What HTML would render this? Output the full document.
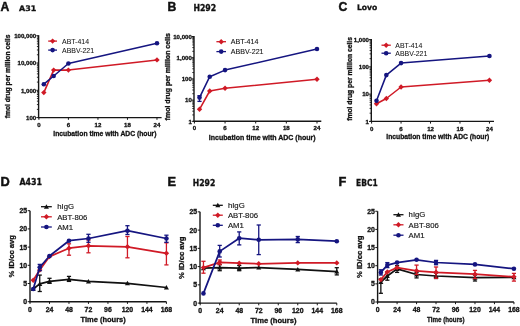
<!DOCTYPE html>
<html><head><meta charset="utf-8"><title>Figure</title>
<style>html,body{margin:0;padding:0;background:#fff;}svg{display:block;}</style></head>
<body>
<svg width="520" height="326" viewBox="0 0 520 326">
<rect width="520" height="326" fill="#fff"/>
<text x="0.40" y="11.20" font-size="12.2" text-anchor="start" font-weight="bold" font-family='"Liberation Sans", Arial, sans-serif' fill="#111" stroke="#111" stroke-width="0.3" style="stroke-width:0.45">A</text>
<text x="167.40" y="11.40" font-size="12.2" text-anchor="start" font-weight="bold" font-family='"Liberation Sans", Arial, sans-serif' fill="#111" stroke="#111" stroke-width="0.3" style="stroke-width:0.45">B</text>
<text x="338.40" y="11.40" font-size="12.2" text-anchor="start" font-weight="bold" font-family='"Liberation Sans", Arial, sans-serif' fill="#111" stroke="#111" stroke-width="0.3" style="stroke-width:0.45">C</text>
<text x="0.50" y="186.00" font-size="12.8" text-anchor="start" font-weight="bold" font-family='"Liberation Sans", Arial, sans-serif' fill="#111" stroke="#111" stroke-width="0.3" style="stroke-width:0.45">D</text>
<text x="167.60" y="185.80" font-size="12.8" text-anchor="start" font-weight="bold" font-family='"Liberation Sans", Arial, sans-serif' fill="#111" stroke="#111" stroke-width="0.3" style="stroke-width:0.45">E</text>
<text x="338.40" y="185.80" font-size="12.8" text-anchor="start" font-weight="bold" font-family='"Liberation Sans", Arial, sans-serif' fill="#111" stroke="#111" stroke-width="0.3" style="stroke-width:0.45">F</text>
<text x="19.00" y="10.60" font-size="7.6" text-anchor="start" font-weight="bold" font-family='"DejaVu Sans", Verdana, sans-serif' fill="#111" textLength="17.2" lengthAdjust="spacingAndGlyphs" stroke="#111" stroke-width="0.3" >A31</text>
<text x="193.40" y="10.90" font-size="8.1" text-anchor="start" font-weight="bold" font-family='"DejaVu Sans", Verdana, sans-serif' fill="#111" textLength="22.8" lengthAdjust="spacingAndGlyphs" stroke="#111" stroke-width="0.3" >H292</text>
<text x="357.00" y="10.40" font-size="7.6" text-anchor="start" font-weight="bold" font-family='"DejaVu Sans", Verdana, sans-serif' fill="#111" textLength="20.3" lengthAdjust="spacingAndGlyphs" stroke="#111" stroke-width="0.3" >Lovo</text>
<text x="19.40" y="185.40" font-size="8.2" text-anchor="start" font-weight="bold" font-family='"DejaVu Sans", Verdana, sans-serif' fill="#111" textLength="22.6" lengthAdjust="spacingAndGlyphs" stroke="#111" stroke-width="0.3" >A431</text>
<text x="192.80" y="185.60" font-size="8.3" text-anchor="start" font-weight="bold" font-family='"DejaVu Sans", Verdana, sans-serif' fill="#111" textLength="22.5" lengthAdjust="spacingAndGlyphs" stroke="#111" stroke-width="0.3" >H292</text>
<text x="356.10" y="185.80" font-size="8.3" text-anchor="start" font-weight="bold" font-family='"DejaVu Sans", Verdana, sans-serif' fill="#111" textLength="21.6" lengthAdjust="spacingAndGlyphs" stroke="#111" stroke-width="0.3" >EBC1</text>
<line x1="38.60" y1="35.20" x2="38.60" y2="118.20" stroke="#161616" stroke-width="1.4"/>
<line x1="36.30" y1="117.60" x2="38.60" y2="117.60" stroke="#161616" stroke-width="1.0"/>
<text x="36.20" y="119.80" font-size="6.1" text-anchor="end" font-weight="bold" font-family='"Liberation Sans", Arial, sans-serif' fill="#111" stroke="#111" stroke-width="0.3" >100</text>
<line x1="36.90" y1="109.38" x2="38.60" y2="109.38" stroke="#161616" stroke-width="0.9"/>
<line x1="36.90" y1="104.57" x2="38.60" y2="104.57" stroke="#161616" stroke-width="0.9"/>
<line x1="36.90" y1="101.16" x2="38.60" y2="101.16" stroke="#161616" stroke-width="0.9"/>
<line x1="36.90" y1="98.52" x2="38.60" y2="98.52" stroke="#161616" stroke-width="0.9"/>
<line x1="36.90" y1="96.36" x2="38.60" y2="96.36" stroke="#161616" stroke-width="0.9"/>
<line x1="36.90" y1="94.53" x2="38.60" y2="94.53" stroke="#161616" stroke-width="0.9"/>
<line x1="36.90" y1="92.95" x2="38.60" y2="92.95" stroke="#161616" stroke-width="0.9"/>
<line x1="36.90" y1="91.55" x2="38.60" y2="91.55" stroke="#161616" stroke-width="0.9"/>
<line x1="36.30" y1="90.30" x2="38.60" y2="90.30" stroke="#161616" stroke-width="1.0"/>
<text x="36.20" y="92.50" font-size="6.1" text-anchor="end" font-weight="bold" font-family='"Liberation Sans", Arial, sans-serif' fill="#111" stroke="#111" stroke-width="0.3" >1,000</text>
<line x1="36.90" y1="82.08" x2="38.60" y2="82.08" stroke="#161616" stroke-width="0.9"/>
<line x1="36.90" y1="77.27" x2="38.60" y2="77.27" stroke="#161616" stroke-width="0.9"/>
<line x1="36.90" y1="73.86" x2="38.60" y2="73.86" stroke="#161616" stroke-width="0.9"/>
<line x1="36.90" y1="71.22" x2="38.60" y2="71.22" stroke="#161616" stroke-width="0.9"/>
<line x1="36.90" y1="69.06" x2="38.60" y2="69.06" stroke="#161616" stroke-width="0.9"/>
<line x1="36.90" y1="67.23" x2="38.60" y2="67.23" stroke="#161616" stroke-width="0.9"/>
<line x1="36.90" y1="65.65" x2="38.60" y2="65.65" stroke="#161616" stroke-width="0.9"/>
<line x1="36.90" y1="64.25" x2="38.60" y2="64.25" stroke="#161616" stroke-width="0.9"/>
<line x1="36.30" y1="63.00" x2="38.60" y2="63.00" stroke="#161616" stroke-width="1.0"/>
<text x="36.20" y="65.20" font-size="6.1" text-anchor="end" font-weight="bold" font-family='"Liberation Sans", Arial, sans-serif' fill="#111" stroke="#111" stroke-width="0.3" >10,000</text>
<line x1="36.90" y1="54.78" x2="38.60" y2="54.78" stroke="#161616" stroke-width="0.9"/>
<line x1="36.90" y1="49.97" x2="38.60" y2="49.97" stroke="#161616" stroke-width="0.9"/>
<line x1="36.90" y1="46.56" x2="38.60" y2="46.56" stroke="#161616" stroke-width="0.9"/>
<line x1="36.90" y1="43.92" x2="38.60" y2="43.92" stroke="#161616" stroke-width="0.9"/>
<line x1="36.90" y1="41.76" x2="38.60" y2="41.76" stroke="#161616" stroke-width="0.9"/>
<line x1="36.90" y1="39.93" x2="38.60" y2="39.93" stroke="#161616" stroke-width="0.9"/>
<line x1="36.90" y1="38.35" x2="38.60" y2="38.35" stroke="#161616" stroke-width="0.9"/>
<line x1="36.90" y1="36.95" x2="38.60" y2="36.95" stroke="#161616" stroke-width="0.9"/>
<line x1="36.30" y1="35.70" x2="38.60" y2="35.70" stroke="#161616" stroke-width="1.0"/>
<text x="36.20" y="37.90" font-size="6.1" text-anchor="end" font-weight="bold" font-family='"Liberation Sans", Arial, sans-serif' fill="#111" stroke="#111" stroke-width="0.3" >100,000</text>
<line x1="38.00" y1="117.60" x2="161.60" y2="117.60" stroke="#161616" stroke-width="1.4"/>
<line x1="38.90" y1="117.60" x2="38.90" y2="119.80" stroke="#161616" stroke-width="1.0"/>
<text x="38.90" y="126.70" font-size="6.1" text-anchor="middle" font-weight="bold" font-family='"Liberation Sans", Arial, sans-serif' fill="#111" stroke="#111" stroke-width="0.3" >0</text>
<line x1="68.42" y1="117.60" x2="68.42" y2="119.80" stroke="#161616" stroke-width="1.0"/>
<text x="68.42" y="126.70" font-size="6.1" text-anchor="middle" font-weight="bold" font-family='"Liberation Sans", Arial, sans-serif' fill="#111" stroke="#111" stroke-width="0.3" >6</text>
<line x1="97.94" y1="117.60" x2="97.94" y2="119.80" stroke="#161616" stroke-width="1.0"/>
<text x="97.94" y="126.70" font-size="6.1" text-anchor="middle" font-weight="bold" font-family='"Liberation Sans", Arial, sans-serif' fill="#111" stroke="#111" stroke-width="0.3" >12</text>
<line x1="127.46" y1="117.60" x2="127.46" y2="119.80" stroke="#161616" stroke-width="1.0"/>
<text x="127.46" y="126.70" font-size="6.1" text-anchor="middle" font-weight="bold" font-family='"Liberation Sans", Arial, sans-serif' fill="#111" stroke="#111" stroke-width="0.3" >18</text>
<line x1="156.98" y1="117.60" x2="156.98" y2="119.80" stroke="#161616" stroke-width="1.0"/>
<text x="156.98" y="126.70" font-size="6.1" text-anchor="middle" font-weight="bold" font-family='"Liberation Sans", Arial, sans-serif' fill="#111" stroke="#111" stroke-width="0.3" >24</text>
<text x="53.30" y="136.09" font-size="7.2" text-anchor="start" font-weight="bold" font-family='"Liberation Sans", Arial, sans-serif' fill="#111" textLength="103.2" lengthAdjust="spacingAndGlyphs" stroke="#111" stroke-width="0.3" >Incubation time with ADC (hour)</text>
<text x="8.00" y="76.45" font-size="6.8" font-weight="bold" font-family='"Liberation Sans", Arial, sans-serif' fill="#111" stroke="#111" stroke-width="0.3" text-anchor="middle" transform="rotate(-90 8.00 76.45)" dy="2.4" textLength="83.7" lengthAdjust="spacingAndGlyphs">fmol drug per million cells</text>
<polyline points="43.82,92.60 53.66,70.10 68.42,70.10 156.98,59.90" fill="none" stroke="#d01a26" stroke-width="1.55" stroke-linejoin="round"/>
<polygon points="43.82,89.90 46.52,92.60 43.82,95.30 41.12,92.60" fill="#d01a26"/>
<polygon points="53.66,67.40 56.36,70.10 53.66,72.80 50.96,70.10" fill="#d01a26"/>
<polygon points="68.42,67.40 71.12,70.10 68.42,72.80 65.72,70.10" fill="#d01a26"/>
<polygon points="156.98,57.20 159.68,59.90 156.98,62.60 154.28,59.90" fill="#d01a26"/>
<polyline points="43.82,84.20 53.66,76.00 68.42,63.50 156.98,43.30" fill="none" stroke="#151580" stroke-width="1.55" stroke-linejoin="round"/>
<circle cx="43.82" cy="84.20" r="2.3" fill="#151580"/>
<circle cx="53.66" cy="76.00" r="2.3" fill="#151580"/>
<circle cx="68.42" cy="63.50" r="2.3" fill="#151580"/>
<circle cx="156.98" cy="43.30" r="2.3" fill="#151580"/>
<line x1="48.20" y1="41.10" x2="57.00" y2="41.10" stroke="#d01a26" stroke-width="1.3"/>
<polygon points="52.60,38.40 55.30,41.10 52.60,43.80 49.90,41.10" fill="#d01a26"/>
<text x="62.00" y="43.60" font-size="6.95" text-anchor="start" font-weight="normal" font-family='"Liberation Sans", Arial, sans-serif' fill="#151515" stroke="#151515" stroke-width="0.05">ABT-414</text>
<line x1="48.20" y1="50.10" x2="57.00" y2="50.10" stroke="#151580" stroke-width="1.3"/>
<circle cx="52.60" cy="50.10" r="2.3" fill="#151580"/>
<text x="62.00" y="52.60" font-size="6.95" text-anchor="start" font-weight="normal" font-family='"Liberation Sans", Arial, sans-serif' fill="#151515" stroke="#151515" stroke-width="0.05">ABBV-221</text>
<line x1="194.00" y1="36.00" x2="194.00" y2="121.90" stroke="#161616" stroke-width="1.4"/>
<line x1="191.70" y1="121.30" x2="194.00" y2="121.30" stroke="#161616" stroke-width="1.0"/>
<text x="191.80" y="123.50" font-size="6.1" text-anchor="end" font-weight="bold" font-family='"Liberation Sans", Arial, sans-serif' fill="#111" stroke="#111" stroke-width="0.3" >1</text>
<line x1="192.30" y1="114.92" x2="194.00" y2="114.92" stroke="#161616" stroke-width="0.9"/>
<line x1="192.30" y1="111.19" x2="194.00" y2="111.19" stroke="#161616" stroke-width="0.9"/>
<line x1="192.30" y1="108.54" x2="194.00" y2="108.54" stroke="#161616" stroke-width="0.9"/>
<line x1="192.30" y1="106.48" x2="194.00" y2="106.48" stroke="#161616" stroke-width="0.9"/>
<line x1="192.30" y1="104.80" x2="194.00" y2="104.80" stroke="#161616" stroke-width="0.9"/>
<line x1="192.30" y1="103.38" x2="194.00" y2="103.38" stroke="#161616" stroke-width="0.9"/>
<line x1="192.30" y1="102.15" x2="194.00" y2="102.15" stroke="#161616" stroke-width="0.9"/>
<line x1="192.30" y1="101.07" x2="194.00" y2="101.07" stroke="#161616" stroke-width="0.9"/>
<line x1="191.70" y1="100.10" x2="194.00" y2="100.10" stroke="#161616" stroke-width="1.0"/>
<text x="191.80" y="102.30" font-size="6.1" text-anchor="end" font-weight="bold" font-family='"Liberation Sans", Arial, sans-serif' fill="#111" stroke="#111" stroke-width="0.3" >10</text>
<line x1="192.30" y1="93.72" x2="194.00" y2="93.72" stroke="#161616" stroke-width="0.9"/>
<line x1="192.30" y1="89.99" x2="194.00" y2="89.99" stroke="#161616" stroke-width="0.9"/>
<line x1="192.30" y1="87.34" x2="194.00" y2="87.34" stroke="#161616" stroke-width="0.9"/>
<line x1="192.30" y1="85.28" x2="194.00" y2="85.28" stroke="#161616" stroke-width="0.9"/>
<line x1="192.30" y1="83.60" x2="194.00" y2="83.60" stroke="#161616" stroke-width="0.9"/>
<line x1="192.30" y1="82.18" x2="194.00" y2="82.18" stroke="#161616" stroke-width="0.9"/>
<line x1="192.30" y1="80.95" x2="194.00" y2="80.95" stroke="#161616" stroke-width="0.9"/>
<line x1="192.30" y1="79.87" x2="194.00" y2="79.87" stroke="#161616" stroke-width="0.9"/>
<line x1="191.70" y1="78.90" x2="194.00" y2="78.90" stroke="#161616" stroke-width="1.0"/>
<text x="191.80" y="81.10" font-size="6.1" text-anchor="end" font-weight="bold" font-family='"Liberation Sans", Arial, sans-serif' fill="#111" stroke="#111" stroke-width="0.3" >100</text>
<line x1="192.30" y1="72.52" x2="194.00" y2="72.52" stroke="#161616" stroke-width="0.9"/>
<line x1="192.30" y1="68.79" x2="194.00" y2="68.79" stroke="#161616" stroke-width="0.9"/>
<line x1="192.30" y1="66.14" x2="194.00" y2="66.14" stroke="#161616" stroke-width="0.9"/>
<line x1="192.30" y1="64.08" x2="194.00" y2="64.08" stroke="#161616" stroke-width="0.9"/>
<line x1="192.30" y1="62.40" x2="194.00" y2="62.40" stroke="#161616" stroke-width="0.9"/>
<line x1="192.30" y1="60.98" x2="194.00" y2="60.98" stroke="#161616" stroke-width="0.9"/>
<line x1="192.30" y1="59.75" x2="194.00" y2="59.75" stroke="#161616" stroke-width="0.9"/>
<line x1="192.30" y1="58.67" x2="194.00" y2="58.67" stroke="#161616" stroke-width="0.9"/>
<line x1="191.70" y1="57.70" x2="194.00" y2="57.70" stroke="#161616" stroke-width="1.0"/>
<text x="191.80" y="59.90" font-size="6.1" text-anchor="end" font-weight="bold" font-family='"Liberation Sans", Arial, sans-serif' fill="#111" stroke="#111" stroke-width="0.3" >1,000</text>
<line x1="192.30" y1="51.32" x2="194.00" y2="51.32" stroke="#161616" stroke-width="0.9"/>
<line x1="192.30" y1="47.59" x2="194.00" y2="47.59" stroke="#161616" stroke-width="0.9"/>
<line x1="192.30" y1="44.94" x2="194.00" y2="44.94" stroke="#161616" stroke-width="0.9"/>
<line x1="192.30" y1="42.88" x2="194.00" y2="42.88" stroke="#161616" stroke-width="0.9"/>
<line x1="192.30" y1="41.20" x2="194.00" y2="41.20" stroke="#161616" stroke-width="0.9"/>
<line x1="192.30" y1="39.78" x2="194.00" y2="39.78" stroke="#161616" stroke-width="0.9"/>
<line x1="192.30" y1="38.55" x2="194.00" y2="38.55" stroke="#161616" stroke-width="0.9"/>
<line x1="192.30" y1="37.47" x2="194.00" y2="37.47" stroke="#161616" stroke-width="0.9"/>
<line x1="191.70" y1="36.50" x2="194.00" y2="36.50" stroke="#161616" stroke-width="1.0"/>
<text x="191.80" y="38.70" font-size="6.1" text-anchor="end" font-weight="bold" font-family='"Liberation Sans", Arial, sans-serif' fill="#111" stroke="#111" stroke-width="0.3" >10,000</text>
<line x1="193.40" y1="121.30" x2="321.30" y2="121.30" stroke="#161616" stroke-width="1.4"/>
<line x1="194.40" y1="121.30" x2="194.40" y2="123.50" stroke="#161616" stroke-width="1.0"/>
<text x="194.40" y="130.30" font-size="6.1" text-anchor="middle" font-weight="bold" font-family='"Liberation Sans", Arial, sans-serif' fill="#111" stroke="#111" stroke-width="0.3" >0</text>
<line x1="225.05" y1="121.30" x2="225.05" y2="123.50" stroke="#161616" stroke-width="1.0"/>
<text x="225.05" y="130.30" font-size="6.1" text-anchor="middle" font-weight="bold" font-family='"Liberation Sans", Arial, sans-serif' fill="#111" stroke="#111" stroke-width="0.3" >6</text>
<line x1="255.70" y1="121.30" x2="255.70" y2="123.50" stroke="#161616" stroke-width="1.0"/>
<text x="255.70" y="130.30" font-size="6.1" text-anchor="middle" font-weight="bold" font-family='"Liberation Sans", Arial, sans-serif' fill="#111" stroke="#111" stroke-width="0.3" >12</text>
<line x1="286.34" y1="121.30" x2="286.34" y2="123.50" stroke="#161616" stroke-width="1.0"/>
<text x="286.34" y="130.30" font-size="6.1" text-anchor="middle" font-weight="bold" font-family='"Liberation Sans", Arial, sans-serif' fill="#111" stroke="#111" stroke-width="0.3" >18</text>
<line x1="316.99" y1="121.30" x2="316.99" y2="123.50" stroke="#161616" stroke-width="1.0"/>
<text x="316.99" y="130.30" font-size="6.1" text-anchor="middle" font-weight="bold" font-family='"Liberation Sans", Arial, sans-serif' fill="#111" stroke="#111" stroke-width="0.3" >24</text>
<text x="208.80" y="140.09" font-size="7.2" text-anchor="start" font-weight="bold" font-family='"Liberation Sans", Arial, sans-serif' fill="#111" textLength="106.80000000000001" lengthAdjust="spacingAndGlyphs" stroke="#111" stroke-width="0.3" >Incubation time with ADC (hour)</text>
<text x="167.20" y="76.70" font-size="6.8" font-weight="bold" font-family='"Liberation Sans", Arial, sans-serif' fill="#111" stroke="#111" stroke-width="0.3" text-anchor="middle" transform="rotate(-90 167.20 76.70)" dy="2.4" textLength="87.4" lengthAdjust="spacingAndGlyphs">fmol drug per million cells</text>
<polyline points="199.51,109.30 209.72,91.00 225.05,88.30 316.99,79.20" fill="none" stroke="#d01a26" stroke-width="1.55" stroke-linejoin="round"/>
<polygon points="199.51,106.60 202.21,109.30 199.51,112.00 196.81,109.30" fill="#d01a26"/>
<polygon points="209.72,88.30 212.42,91.00 209.72,93.70 207.02,91.00" fill="#d01a26"/>
<polygon points="225.05,85.60 227.75,88.30 225.05,91.00 222.35,88.30" fill="#d01a26"/>
<polygon points="316.99,76.50 319.69,79.20 316.99,81.90 314.29,79.20" fill="#d01a26"/>
<polyline points="199.51,97.60 209.72,76.70 225.05,70.10 316.99,49.00" fill="none" stroke="#151580" stroke-width="1.55" stroke-linejoin="round"/>
<circle cx="199.51" cy="97.60" r="2.3" fill="#151580"/>
<circle cx="209.72" cy="76.70" r="2.3" fill="#151580"/>
<circle cx="225.05" cy="70.10" r="2.3" fill="#151580"/>
<circle cx="316.99" cy="49.00" r="2.3" fill="#151580"/>
<line x1="199.51" y1="95.70" x2="199.51" y2="101.40" stroke="#151580" stroke-width="1.3"/>
<line x1="197.41" y1="95.70" x2="201.61" y2="95.70" stroke="#151580" stroke-width="1.3"/>
<line x1="197.41" y1="101.40" x2="201.61" y2="101.40" stroke="#151580" stroke-width="1.3"/>
<line x1="216.40" y1="41.70" x2="226.00" y2="41.70" stroke="#d01a26" stroke-width="1.3"/>
<polygon points="221.20,39.00 223.90,41.70 221.20,44.40 218.50,41.70" fill="#d01a26"/>
<text x="230.80" y="44.26" font-size="7.1" text-anchor="start" font-weight="normal" font-family='"Liberation Sans", Arial, sans-serif' fill="#151515" stroke="#151515" stroke-width="0.1">ABT-414</text>
<line x1="216.40" y1="51.60" x2="226.00" y2="51.60" stroke="#151580" stroke-width="1.3"/>
<circle cx="221.20" cy="51.60" r="2.3" fill="#151580"/>
<text x="230.80" y="54.16" font-size="7.1" text-anchor="start" font-weight="normal" font-family='"Liberation Sans", Arial, sans-serif' fill="#151515" stroke="#151515" stroke-width="0.1">ABBV-221</text>
<line x1="371.30" y1="39.00" x2="371.30" y2="122.00" stroke="#161616" stroke-width="1.4"/>
<line x1="369.00" y1="121.40" x2="371.30" y2="121.40" stroke="#161616" stroke-width="1.0"/>
<text x="369.00" y="123.60" font-size="6.1" text-anchor="end" font-weight="bold" font-family='"Liberation Sans", Arial, sans-serif' fill="#111" stroke="#111" stroke-width="0.3" >1</text>
<line x1="369.60" y1="113.19" x2="371.30" y2="113.19" stroke="#161616" stroke-width="0.9"/>
<line x1="369.60" y1="108.39" x2="371.30" y2="108.39" stroke="#161616" stroke-width="0.9"/>
<line x1="369.60" y1="104.98" x2="371.30" y2="104.98" stroke="#161616" stroke-width="0.9"/>
<line x1="369.60" y1="102.34" x2="371.30" y2="102.34" stroke="#161616" stroke-width="0.9"/>
<line x1="369.60" y1="100.18" x2="371.30" y2="100.18" stroke="#161616" stroke-width="0.9"/>
<line x1="369.60" y1="98.35" x2="371.30" y2="98.35" stroke="#161616" stroke-width="0.9"/>
<line x1="369.60" y1="96.77" x2="371.30" y2="96.77" stroke="#161616" stroke-width="0.9"/>
<line x1="369.60" y1="95.38" x2="371.30" y2="95.38" stroke="#161616" stroke-width="0.9"/>
<line x1="369.00" y1="94.13" x2="371.30" y2="94.13" stroke="#161616" stroke-width="1.0"/>
<text x="369.00" y="96.33" font-size="6.1" text-anchor="end" font-weight="bold" font-family='"Liberation Sans", Arial, sans-serif' fill="#111" stroke="#111" stroke-width="0.3" >10</text>
<line x1="369.60" y1="85.92" x2="371.30" y2="85.92" stroke="#161616" stroke-width="0.9"/>
<line x1="369.60" y1="81.12" x2="371.30" y2="81.12" stroke="#161616" stroke-width="0.9"/>
<line x1="369.60" y1="77.71" x2="371.30" y2="77.71" stroke="#161616" stroke-width="0.9"/>
<line x1="369.60" y1="75.07" x2="371.30" y2="75.07" stroke="#161616" stroke-width="0.9"/>
<line x1="369.60" y1="72.91" x2="371.30" y2="72.91" stroke="#161616" stroke-width="0.9"/>
<line x1="369.60" y1="71.08" x2="371.30" y2="71.08" stroke="#161616" stroke-width="0.9"/>
<line x1="369.60" y1="69.50" x2="371.30" y2="69.50" stroke="#161616" stroke-width="0.9"/>
<line x1="369.60" y1="68.11" x2="371.30" y2="68.11" stroke="#161616" stroke-width="0.9"/>
<line x1="369.00" y1="66.86" x2="371.30" y2="66.86" stroke="#161616" stroke-width="1.0"/>
<text x="369.00" y="69.06" font-size="6.1" text-anchor="end" font-weight="bold" font-family='"Liberation Sans", Arial, sans-serif' fill="#111" stroke="#111" stroke-width="0.3" >100</text>
<line x1="369.60" y1="58.65" x2="371.30" y2="58.65" stroke="#161616" stroke-width="0.9"/>
<line x1="369.60" y1="53.85" x2="371.30" y2="53.85" stroke="#161616" stroke-width="0.9"/>
<line x1="369.60" y1="50.44" x2="371.30" y2="50.44" stroke="#161616" stroke-width="0.9"/>
<line x1="369.60" y1="47.80" x2="371.30" y2="47.80" stroke="#161616" stroke-width="0.9"/>
<line x1="369.60" y1="45.64" x2="371.30" y2="45.64" stroke="#161616" stroke-width="0.9"/>
<line x1="369.60" y1="43.81" x2="371.30" y2="43.81" stroke="#161616" stroke-width="0.9"/>
<line x1="369.60" y1="42.23" x2="371.30" y2="42.23" stroke="#161616" stroke-width="0.9"/>
<line x1="369.60" y1="40.84" x2="371.30" y2="40.84" stroke="#161616" stroke-width="0.9"/>
<line x1="369.00" y1="39.59" x2="371.30" y2="39.59" stroke="#161616" stroke-width="1.0"/>
<text x="369.00" y="41.79" font-size="6.1" text-anchor="end" font-weight="bold" font-family='"Liberation Sans", Arial, sans-serif' fill="#111" stroke="#111" stroke-width="0.3" >1,000</text>
<line x1="370.70" y1="121.40" x2="494.00" y2="121.40" stroke="#161616" stroke-width="1.4"/>
<line x1="371.60" y1="121.40" x2="371.60" y2="123.60" stroke="#161616" stroke-width="1.0"/>
<text x="371.60" y="130.50" font-size="6.1" text-anchor="middle" font-weight="bold" font-family='"Liberation Sans", Arial, sans-serif' fill="#111" stroke="#111" stroke-width="0.3" >0</text>
<line x1="401.06" y1="121.40" x2="401.06" y2="123.60" stroke="#161616" stroke-width="1.0"/>
<text x="401.06" y="130.50" font-size="6.1" text-anchor="middle" font-weight="bold" font-family='"Liberation Sans", Arial, sans-serif' fill="#111" stroke="#111" stroke-width="0.3" >6</text>
<line x1="430.52" y1="121.40" x2="430.52" y2="123.60" stroke="#161616" stroke-width="1.0"/>
<text x="430.52" y="130.50" font-size="6.1" text-anchor="middle" font-weight="bold" font-family='"Liberation Sans", Arial, sans-serif' fill="#111" stroke="#111" stroke-width="0.3" >12</text>
<line x1="459.98" y1="121.40" x2="459.98" y2="123.60" stroke="#161616" stroke-width="1.0"/>
<text x="459.98" y="130.50" font-size="6.1" text-anchor="middle" font-weight="bold" font-family='"Liberation Sans", Arial, sans-serif' fill="#111" stroke="#111" stroke-width="0.3" >18</text>
<line x1="489.44" y1="121.40" x2="489.44" y2="123.60" stroke="#161616" stroke-width="1.0"/>
<text x="489.44" y="130.50" font-size="6.1" text-anchor="middle" font-weight="bold" font-family='"Liberation Sans", Arial, sans-serif' fill="#111" stroke="#111" stroke-width="0.3" >24</text>
<text x="386.30" y="139.39" font-size="7.2" text-anchor="start" font-weight="bold" font-family='"Liberation Sans", Arial, sans-serif' fill="#111" textLength="103.0" lengthAdjust="spacingAndGlyphs" stroke="#111" stroke-width="0.3" >Incubation time with ADC (hour)</text>
<text x="349.40" y="78.90" font-size="6.8" font-weight="bold" font-family='"Liberation Sans", Arial, sans-serif' fill="#111" stroke="#111" stroke-width="0.3" text-anchor="middle" transform="rotate(-90 349.40 78.90)" dy="2.4" textLength="83.8" lengthAdjust="spacingAndGlyphs">fmol drug per million cells</text>
<polyline points="376.51,103.80 386.33,98.50 401.06,87.00 489.44,80.30" fill="none" stroke="#d01a26" stroke-width="1.55" stroke-linejoin="round"/>
<polygon points="376.51,101.10 379.21,103.80 376.51,106.50 373.81,103.80" fill="#d01a26"/>
<polygon points="386.33,95.80 389.03,98.50 386.33,101.20 383.63,98.50" fill="#d01a26"/>
<polygon points="401.06,84.30 403.76,87.00 401.06,89.70 398.36,87.00" fill="#d01a26"/>
<polygon points="489.44,77.60 492.14,80.30 489.44,83.00 486.74,80.30" fill="#d01a26"/>
<polyline points="376.51,100.70 386.33,75.10 401.06,63.10 489.44,56.00" fill="none" stroke="#151580" stroke-width="1.55" stroke-linejoin="round"/>
<circle cx="376.51" cy="100.70" r="2.3" fill="#151580"/>
<circle cx="386.33" cy="75.10" r="2.3" fill="#151580"/>
<circle cx="401.06" cy="63.10" r="2.3" fill="#151580"/>
<circle cx="489.44" cy="56.00" r="2.3" fill="#151580"/>
<line x1="381.50" y1="45.20" x2="390.80" y2="45.20" stroke="#d01a26" stroke-width="1.3"/>
<polygon points="386.15,42.50 388.85,45.20 386.15,47.90 383.45,45.20" fill="#d01a26"/>
<text x="395.30" y="47.70" font-size="6.95" text-anchor="start" font-weight="normal" font-family='"Liberation Sans", Arial, sans-serif' fill="#151515" stroke="#151515" stroke-width="0.05">ABT-414</text>
<line x1="381.50" y1="53.20" x2="390.80" y2="53.20" stroke="#151580" stroke-width="1.3"/>
<circle cx="386.15" cy="53.20" r="2.3" fill="#151580"/>
<text x="395.30" y="55.70" font-size="6.95" text-anchor="start" font-weight="normal" font-family='"Liberation Sans", Arial, sans-serif' fill="#151515" stroke="#151515" stroke-width="0.05">ABBV-221</text>
<line x1="30.00" y1="210.70" x2="30.00" y2="302.30" stroke="#161616" stroke-width="1.4"/>
<line x1="27.70" y1="301.70" x2="30.00" y2="301.70" stroke="#161616" stroke-width="1.0"/>
<text x="27.20" y="304.18" font-size="6.9" text-anchor="end" font-weight="bold" font-family='"Liberation Sans", Arial, sans-serif' fill="#111" stroke="#111" stroke-width="0.3" >0</text>
<line x1="27.70" y1="283.50" x2="30.00" y2="283.50" stroke="#161616" stroke-width="1.0"/>
<text x="27.20" y="285.98" font-size="6.9" text-anchor="end" font-weight="bold" font-family='"Liberation Sans", Arial, sans-serif' fill="#111" stroke="#111" stroke-width="0.3" >5</text>
<line x1="27.70" y1="265.30" x2="30.00" y2="265.30" stroke="#161616" stroke-width="1.0"/>
<text x="27.20" y="267.78" font-size="6.9" text-anchor="end" font-weight="bold" font-family='"Liberation Sans", Arial, sans-serif' fill="#111" stroke="#111" stroke-width="0.3" >10</text>
<line x1="27.70" y1="247.10" x2="30.00" y2="247.10" stroke="#161616" stroke-width="1.0"/>
<text x="27.20" y="249.58" font-size="6.9" text-anchor="end" font-weight="bold" font-family='"Liberation Sans", Arial, sans-serif' fill="#111" stroke="#111" stroke-width="0.3" >15</text>
<line x1="27.70" y1="228.90" x2="30.00" y2="228.90" stroke="#161616" stroke-width="1.0"/>
<text x="27.20" y="231.38" font-size="6.9" text-anchor="end" font-weight="bold" font-family='"Liberation Sans", Arial, sans-serif' fill="#111" stroke="#111" stroke-width="0.3" >20</text>
<line x1="27.70" y1="210.70" x2="30.00" y2="210.70" stroke="#161616" stroke-width="1.0"/>
<text x="27.20" y="213.18" font-size="6.9" text-anchor="end" font-weight="bold" font-family='"Liberation Sans", Arial, sans-serif' fill="#111" stroke="#111" stroke-width="0.3" >25</text>
<line x1="29.40" y1="301.70" x2="166.40" y2="301.70" stroke="#161616" stroke-width="1.4"/>
<line x1="30.00" y1="301.70" x2="30.00" y2="303.90" stroke="#161616" stroke-width="1.0"/>
<text x="30.00" y="311.98" font-size="6.9" text-anchor="middle" font-weight="bold" font-family='"Liberation Sans", Arial, sans-serif' fill="#111" stroke="#111" stroke-width="0.3" >0</text>
<line x1="49.49" y1="301.70" x2="49.49" y2="303.90" stroke="#161616" stroke-width="1.0"/>
<text x="49.49" y="311.98" font-size="6.9" text-anchor="middle" font-weight="bold" font-family='"Liberation Sans", Arial, sans-serif' fill="#111" stroke="#111" stroke-width="0.3" >24</text>
<line x1="68.98" y1="301.70" x2="68.98" y2="303.90" stroke="#161616" stroke-width="1.0"/>
<text x="68.98" y="311.98" font-size="6.9" text-anchor="middle" font-weight="bold" font-family='"Liberation Sans", Arial, sans-serif' fill="#111" stroke="#111" stroke-width="0.3" >48</text>
<line x1="88.46" y1="301.70" x2="88.46" y2="303.90" stroke="#161616" stroke-width="1.0"/>
<text x="88.46" y="311.98" font-size="6.9" text-anchor="middle" font-weight="bold" font-family='"Liberation Sans", Arial, sans-serif' fill="#111" stroke="#111" stroke-width="0.3" >72</text>
<line x1="107.95" y1="301.70" x2="107.95" y2="303.90" stroke="#161616" stroke-width="1.0"/>
<text x="107.95" y="311.98" font-size="6.9" text-anchor="middle" font-weight="bold" font-family='"Liberation Sans", Arial, sans-serif' fill="#111" stroke="#111" stroke-width="0.3" >96</text>
<line x1="127.44" y1="301.70" x2="127.44" y2="303.90" stroke="#161616" stroke-width="1.0"/>
<text x="127.44" y="311.98" font-size="6.9" text-anchor="middle" font-weight="bold" font-family='"Liberation Sans", Arial, sans-serif' fill="#111" stroke="#111" stroke-width="0.3" >120</text>
<line x1="146.93" y1="301.70" x2="146.93" y2="303.90" stroke="#161616" stroke-width="1.0"/>
<text x="146.93" y="311.98" font-size="6.9" text-anchor="middle" font-weight="bold" font-family='"Liberation Sans", Arial, sans-serif' fill="#111" stroke="#111" stroke-width="0.3" >144</text>
<line x1="166.42" y1="301.70" x2="166.42" y2="303.90" stroke="#161616" stroke-width="1.0"/>
<text x="166.42" y="311.98" font-size="6.9" text-anchor="middle" font-weight="bold" font-family='"Liberation Sans", Arial, sans-serif' fill="#111" stroke="#111" stroke-width="0.3" >168</text>
<text x="80.50" y="321.74" font-size="7.6" text-anchor="start" font-weight="bold" font-family='"Liberation Sans", Arial, sans-serif' fill="#111" textLength="45.3" lengthAdjust="spacingAndGlyphs" stroke="#111" stroke-width="0.3" >Time (hours)</text>
<text x="11.00" y="256.30" font-size="7.9" font-weight="bold" font-family='"Liberation Sans", Arial, sans-serif' fill="#111" stroke="#111" stroke-width="0.3" text-anchor="middle" transform="rotate(-90 11.00 256.30)" dy="2.8" textLength="42.4" lengthAdjust="spacingAndGlyphs">% ID/cc avg</text>
<polyline points="33.25,289.00 39.74,283.90 49.49,281.40 68.98,279.30 88.46,281.40 127.44,283.30 166.42,287.50" fill="none" stroke="#111" stroke-width="1.75" stroke-linejoin="round"/>
<line x1="39.74" y1="275.10" x2="39.74" y2="291.50" stroke="#111" stroke-width="1.3"/>
<line x1="37.64" y1="275.10" x2="41.84" y2="275.10" stroke="#111" stroke-width="1.3"/>
<line x1="37.64" y1="291.50" x2="41.84" y2="291.50" stroke="#111" stroke-width="1.3"/>
<line x1="49.49" y1="278.30" x2="49.49" y2="283.30" stroke="#111" stroke-width="1.3"/>
<line x1="47.39" y1="278.30" x2="51.59" y2="278.30" stroke="#111" stroke-width="1.3"/>
<line x1="47.39" y1="283.30" x2="51.59" y2="283.30" stroke="#111" stroke-width="1.3"/>
<line x1="68.98" y1="276.40" x2="68.98" y2="281.40" stroke="#111" stroke-width="1.3"/>
<line x1="66.88" y1="276.40" x2="71.08" y2="276.40" stroke="#111" stroke-width="1.3"/>
<line x1="66.88" y1="281.40" x2="71.08" y2="281.40" stroke="#111" stroke-width="1.3"/>
<polygon points="33.25,286.50 35.75,291.00 30.75,291.00" fill="#111"/>
<polygon points="39.74,281.40 42.24,285.90 37.24,285.90" fill="#111"/>
<polygon points="49.49,278.90 51.99,283.40 46.99,283.40" fill="#111"/>
<polygon points="68.98,276.80 71.48,281.30 66.48,281.30" fill="#111"/>
<polygon points="88.46,278.90 90.96,283.40 85.96,283.40" fill="#111"/>
<polygon points="127.44,280.80 129.94,285.30 124.94,285.30" fill="#111"/>
<polygon points="166.42,285.00 168.92,289.50 163.92,289.50" fill="#111"/>
<polyline points="33.25,280.20 39.74,270.00 49.49,256.60 68.98,248.20 88.46,245.80 127.44,246.80 166.42,253.30" fill="none" stroke="#d01a26" stroke-width="1.75" stroke-linejoin="round"/>
<line x1="68.98" y1="243.80" x2="68.98" y2="255.20" stroke="#d01a26" stroke-width="1.3"/>
<line x1="66.88" y1="243.80" x2="71.08" y2="243.80" stroke="#d01a26" stroke-width="1.3"/>
<line x1="66.88" y1="255.20" x2="71.08" y2="255.20" stroke="#d01a26" stroke-width="1.3"/>
<line x1="88.46" y1="240.00" x2="88.46" y2="252.80" stroke="#d01a26" stroke-width="1.3"/>
<line x1="86.36" y1="240.00" x2="90.56" y2="240.00" stroke="#d01a26" stroke-width="1.3"/>
<line x1="86.36" y1="252.80" x2="90.56" y2="252.80" stroke="#d01a26" stroke-width="1.3"/>
<line x1="127.44" y1="236.50" x2="127.44" y2="257.80" stroke="#d01a26" stroke-width="1.3"/>
<line x1="125.34" y1="236.50" x2="129.54" y2="236.50" stroke="#d01a26" stroke-width="1.3"/>
<line x1="125.34" y1="257.80" x2="129.54" y2="257.80" stroke="#d01a26" stroke-width="1.3"/>
<line x1="166.42" y1="242.80" x2="166.42" y2="264.90" stroke="#d01a26" stroke-width="1.3"/>
<line x1="164.32" y1="242.80" x2="168.52" y2="242.80" stroke="#d01a26" stroke-width="1.3"/>
<line x1="164.32" y1="264.90" x2="168.52" y2="264.90" stroke="#d01a26" stroke-width="1.3"/>
<polygon points="33.25,277.50 35.95,280.20 33.25,282.90 30.55,280.20" fill="#d01a26"/>
<polygon points="39.74,267.30 42.44,270.00 39.74,272.70 37.04,270.00" fill="#d01a26"/>
<polygon points="49.49,253.90 52.19,256.60 49.49,259.30 46.79,256.60" fill="#d01a26"/>
<polygon points="68.98,245.50 71.68,248.20 68.98,250.90 66.28,248.20" fill="#d01a26"/>
<polygon points="88.46,243.10 91.16,245.80 88.46,248.50 85.76,245.80" fill="#d01a26"/>
<polygon points="127.44,244.10 130.14,246.80 127.44,249.50 124.74,246.80" fill="#d01a26"/>
<polygon points="166.42,250.60 169.12,253.30 166.42,256.00 163.72,253.30" fill="#d01a26"/>
<polyline points="33.25,289.00 39.74,267.30 49.49,256.00 68.98,240.70 88.46,238.50 127.44,230.70 166.42,238.50" fill="none" stroke="#151580" stroke-width="1.75" stroke-linejoin="round"/>
<line x1="39.74" y1="264.40" x2="39.74" y2="270.70" stroke="#151580" stroke-width="1.3"/>
<line x1="37.64" y1="264.40" x2="41.84" y2="264.40" stroke="#151580" stroke-width="1.3"/>
<line x1="37.64" y1="270.70" x2="41.84" y2="270.70" stroke="#151580" stroke-width="1.3"/>
<line x1="88.46" y1="234.30" x2="88.46" y2="242.30" stroke="#151580" stroke-width="1.3"/>
<line x1="86.36" y1="234.30" x2="90.56" y2="234.30" stroke="#151580" stroke-width="1.3"/>
<line x1="86.36" y1="242.30" x2="90.56" y2="242.30" stroke="#151580" stroke-width="1.3"/>
<line x1="127.44" y1="225.70" x2="127.44" y2="234.50" stroke="#151580" stroke-width="1.3"/>
<line x1="125.34" y1="225.70" x2="129.54" y2="225.70" stroke="#151580" stroke-width="1.3"/>
<line x1="125.34" y1="234.50" x2="129.54" y2="234.50" stroke="#151580" stroke-width="1.3"/>
<line x1="166.42" y1="235.20" x2="166.42" y2="242.30" stroke="#151580" stroke-width="1.3"/>
<line x1="164.32" y1="235.20" x2="168.52" y2="235.20" stroke="#151580" stroke-width="1.3"/>
<line x1="164.32" y1="242.30" x2="168.52" y2="242.30" stroke="#151580" stroke-width="1.3"/>
<circle cx="33.25" cy="289.00" r="2.3" fill="#151580"/>
<circle cx="39.74" cy="267.30" r="2.3" fill="#151580"/>
<circle cx="49.49" cy="256.00" r="2.3" fill="#151580"/>
<circle cx="68.98" cy="240.70" r="2.3" fill="#151580"/>
<circle cx="88.46" cy="238.50" r="2.3" fill="#151580"/>
<circle cx="127.44" cy="230.70" r="2.3" fill="#151580"/>
<circle cx="166.42" cy="238.50" r="2.3" fill="#151580"/>
<line x1="41.00" y1="206.70" x2="51.80" y2="206.70" stroke="#111" stroke-width="1.3"/>
<polygon points="46.40,204.20 48.90,208.70 43.90,208.70" fill="#111"/>
<text x="57.20" y="209.49" font-size="7.75" text-anchor="start" font-weight="normal" font-family='"Liberation Sans", Arial, sans-serif' fill="#151515" stroke="#151515" stroke-width="0.15">hIgG</text>
<line x1="41.00" y1="216.80" x2="51.80" y2="216.80" stroke="#d01a26" stroke-width="1.3"/>
<polygon points="46.40,214.10 49.10,216.80 46.40,219.50 43.70,216.80" fill="#d01a26"/>
<text x="57.20" y="219.59" font-size="7.75" text-anchor="start" font-weight="normal" font-family='"Liberation Sans", Arial, sans-serif' fill="#151515" stroke="#151515" stroke-width="0.15">ABT-806</text>
<line x1="41.00" y1="227.00" x2="51.80" y2="227.00" stroke="#151580" stroke-width="1.3"/>
<circle cx="46.40" cy="227.00" r="2.3" fill="#151580"/>
<text x="57.20" y="229.79" font-size="7.75" text-anchor="start" font-weight="normal" font-family='"Liberation Sans", Arial, sans-serif' fill="#151515" stroke="#151515" stroke-width="0.15">AM1</text>
<line x1="200.00" y1="211.85" x2="200.00" y2="303.70" stroke="#161616" stroke-width="1.4"/>
<line x1="197.70" y1="303.10" x2="200.00" y2="303.10" stroke="#161616" stroke-width="1.0"/>
<text x="197.20" y="305.58" font-size="6.9" text-anchor="end" font-weight="bold" font-family='"Liberation Sans", Arial, sans-serif' fill="#111" stroke="#111" stroke-width="0.3" >0</text>
<line x1="197.70" y1="284.85" x2="200.00" y2="284.85" stroke="#161616" stroke-width="1.0"/>
<text x="197.20" y="287.33" font-size="6.9" text-anchor="end" font-weight="bold" font-family='"Liberation Sans", Arial, sans-serif' fill="#111" stroke="#111" stroke-width="0.3" >5</text>
<line x1="197.70" y1="266.60" x2="200.00" y2="266.60" stroke="#161616" stroke-width="1.0"/>
<text x="197.20" y="269.08" font-size="6.9" text-anchor="end" font-weight="bold" font-family='"Liberation Sans", Arial, sans-serif' fill="#111" stroke="#111" stroke-width="0.3" >10</text>
<line x1="197.70" y1="248.35" x2="200.00" y2="248.35" stroke="#161616" stroke-width="1.0"/>
<text x="197.20" y="250.83" font-size="6.9" text-anchor="end" font-weight="bold" font-family='"Liberation Sans", Arial, sans-serif' fill="#111" stroke="#111" stroke-width="0.3" >15</text>
<line x1="197.70" y1="230.10" x2="200.00" y2="230.10" stroke="#161616" stroke-width="1.0"/>
<text x="197.20" y="232.58" font-size="6.9" text-anchor="end" font-weight="bold" font-family='"Liberation Sans", Arial, sans-serif' fill="#111" stroke="#111" stroke-width="0.3" >20</text>
<line x1="197.70" y1="211.85" x2="200.00" y2="211.85" stroke="#161616" stroke-width="1.0"/>
<text x="197.20" y="214.33" font-size="6.9" text-anchor="end" font-weight="bold" font-family='"Liberation Sans", Arial, sans-serif' fill="#111" stroke="#111" stroke-width="0.3" >25</text>
<line x1="199.40" y1="303.10" x2="336.80" y2="303.10" stroke="#161616" stroke-width="1.4"/>
<line x1="200.20" y1="303.10" x2="200.20" y2="305.30" stroke="#161616" stroke-width="1.0"/>
<text x="200.20" y="313.28" font-size="6.9" text-anchor="middle" font-weight="bold" font-family='"Liberation Sans", Arial, sans-serif' fill="#111" stroke="#111" stroke-width="0.3" >0</text>
<line x1="219.71" y1="303.10" x2="219.71" y2="305.30" stroke="#161616" stroke-width="1.0"/>
<text x="219.71" y="313.28" font-size="6.9" text-anchor="middle" font-weight="bold" font-family='"Liberation Sans", Arial, sans-serif' fill="#111" stroke="#111" stroke-width="0.3" >24</text>
<line x1="239.22" y1="303.10" x2="239.22" y2="305.30" stroke="#161616" stroke-width="1.0"/>
<text x="239.22" y="313.28" font-size="6.9" text-anchor="middle" font-weight="bold" font-family='"Liberation Sans", Arial, sans-serif' fill="#111" stroke="#111" stroke-width="0.3" >48</text>
<line x1="258.74" y1="303.10" x2="258.74" y2="305.30" stroke="#161616" stroke-width="1.0"/>
<text x="258.74" y="313.28" font-size="6.9" text-anchor="middle" font-weight="bold" font-family='"Liberation Sans", Arial, sans-serif' fill="#111" stroke="#111" stroke-width="0.3" >72</text>
<line x1="278.25" y1="303.10" x2="278.25" y2="305.30" stroke="#161616" stroke-width="1.0"/>
<text x="278.25" y="313.28" font-size="6.9" text-anchor="middle" font-weight="bold" font-family='"Liberation Sans", Arial, sans-serif' fill="#111" stroke="#111" stroke-width="0.3" >96</text>
<line x1="297.76" y1="303.10" x2="297.76" y2="305.30" stroke="#161616" stroke-width="1.0"/>
<text x="297.76" y="313.28" font-size="6.9" text-anchor="middle" font-weight="bold" font-family='"Liberation Sans", Arial, sans-serif' fill="#111" stroke="#111" stroke-width="0.3" >120</text>
<line x1="317.27" y1="303.10" x2="317.27" y2="305.30" stroke="#161616" stroke-width="1.0"/>
<text x="317.27" y="313.28" font-size="6.9" text-anchor="middle" font-weight="bold" font-family='"Liberation Sans", Arial, sans-serif' fill="#111" stroke="#111" stroke-width="0.3" >144</text>
<line x1="336.78" y1="303.10" x2="336.78" y2="305.30" stroke="#161616" stroke-width="1.0"/>
<text x="336.78" y="313.28" font-size="6.9" text-anchor="middle" font-weight="bold" font-family='"Liberation Sans", Arial, sans-serif' fill="#111" stroke="#111" stroke-width="0.3" >168</text>
<text x="250.50" y="323.04" font-size="7.6" text-anchor="start" font-weight="bold" font-family='"Liberation Sans", Arial, sans-serif' fill="#111" textLength="46.0" lengthAdjust="spacingAndGlyphs" stroke="#111" stroke-width="0.3" >Time (hours)</text>
<text x="181.30" y="257.75" font-size="7.9" font-weight="bold" font-family='"Liberation Sans", Arial, sans-serif' fill="#111" stroke="#111" stroke-width="0.3" text-anchor="middle" transform="rotate(-90 181.30 257.75)" dy="2.8" textLength="42.5" lengthAdjust="spacingAndGlyphs">% ID/cc avg</text>
<polyline points="203.45,268.20 219.71,267.60 239.22,268.20 258.74,267.60 297.76,269.40 336.78,271.60" fill="none" stroke="#111" stroke-width="1.75" stroke-linejoin="round"/>
<line x1="219.71" y1="264.60" x2="219.71" y2="270.70" stroke="#111" stroke-width="1.3"/>
<line x1="217.61" y1="264.60" x2="221.81" y2="264.60" stroke="#111" stroke-width="1.3"/>
<line x1="217.61" y1="270.70" x2="221.81" y2="270.70" stroke="#111" stroke-width="1.3"/>
<line x1="239.22" y1="265.50" x2="239.22" y2="270.70" stroke="#111" stroke-width="1.3"/>
<line x1="237.12" y1="265.50" x2="241.32" y2="265.50" stroke="#111" stroke-width="1.3"/>
<line x1="237.12" y1="270.70" x2="241.32" y2="270.70" stroke="#111" stroke-width="1.3"/>
<line x1="336.78" y1="267.70" x2="336.78" y2="274.90" stroke="#111" stroke-width="1.3"/>
<line x1="334.68" y1="267.70" x2="338.88" y2="267.70" stroke="#111" stroke-width="1.3"/>
<line x1="334.68" y1="274.90" x2="338.88" y2="274.90" stroke="#111" stroke-width="1.3"/>
<polygon points="203.45,265.70 205.95,270.20 200.95,270.20" fill="#111"/>
<polygon points="219.71,265.10 222.21,269.60 217.21,269.60" fill="#111"/>
<polygon points="239.22,265.70 241.72,270.20 236.72,270.20" fill="#111"/>
<polygon points="258.74,265.10 261.24,269.60 256.24,269.60" fill="#111"/>
<polygon points="297.76,266.90 300.26,271.40 295.26,271.40" fill="#111"/>
<polygon points="336.78,269.10 339.28,273.60 334.28,273.60" fill="#111"/>
<polyline points="203.45,267.60 219.71,262.30 239.22,263.20 258.74,263.80 297.76,262.90 336.78,262.90" fill="none" stroke="#d01a26" stroke-width="1.75" stroke-linejoin="round"/>
<line x1="203.45" y1="261.30" x2="203.45" y2="273.20" stroke="#d01a26" stroke-width="1.3"/>
<line x1="201.35" y1="261.30" x2="205.55" y2="261.30" stroke="#d01a26" stroke-width="1.3"/>
<line x1="201.35" y1="273.20" x2="205.55" y2="273.20" stroke="#d01a26" stroke-width="1.3"/>
<line x1="219.71" y1="260.00" x2="219.71" y2="264.60" stroke="#d01a26" stroke-width="1.3"/>
<line x1="217.61" y1="260.00" x2="221.81" y2="260.00" stroke="#d01a26" stroke-width="1.3"/>
<line x1="217.61" y1="264.60" x2="221.81" y2="264.60" stroke="#d01a26" stroke-width="1.3"/>
<polygon points="203.45,264.90 206.15,267.60 203.45,270.30 200.75,267.60" fill="#d01a26"/>
<polygon points="219.71,259.60 222.41,262.30 219.71,265.00 217.01,262.30" fill="#d01a26"/>
<polygon points="239.22,260.50 241.92,263.20 239.22,265.90 236.52,263.20" fill="#d01a26"/>
<polygon points="258.74,261.10 261.44,263.80 258.74,266.50 256.04,263.80" fill="#d01a26"/>
<polygon points="297.76,260.20 300.46,262.90 297.76,265.60 295.06,262.90" fill="#d01a26"/>
<polygon points="336.78,260.20 339.48,262.90 336.78,265.60 334.08,262.90" fill="#d01a26"/>
<polyline points="203.45,293.40 219.71,251.40 239.22,238.20 258.74,239.80 297.76,239.40 336.78,241.20" fill="none" stroke="#151580" stroke-width="1.75" stroke-linejoin="round"/>
<line x1="219.71" y1="245.40" x2="219.71" y2="257.00" stroke="#151580" stroke-width="1.3"/>
<line x1="217.61" y1="245.40" x2="221.81" y2="245.40" stroke="#151580" stroke-width="1.3"/>
<line x1="217.61" y1="257.00" x2="221.81" y2="257.00" stroke="#151580" stroke-width="1.3"/>
<line x1="239.22" y1="231.90" x2="239.22" y2="244.90" stroke="#151580" stroke-width="1.3"/>
<line x1="237.12" y1="231.90" x2="241.32" y2="231.90" stroke="#151580" stroke-width="1.3"/>
<line x1="237.12" y1="244.90" x2="241.32" y2="244.90" stroke="#151580" stroke-width="1.3"/>
<line x1="258.74" y1="225.00" x2="258.74" y2="254.60" stroke="#151580" stroke-width="1.3"/>
<line x1="256.64" y1="225.00" x2="260.84" y2="225.00" stroke="#151580" stroke-width="1.3"/>
<line x1="256.64" y1="254.60" x2="260.84" y2="254.60" stroke="#151580" stroke-width="1.3"/>
<line x1="297.76" y1="236.50" x2="297.76" y2="242.60" stroke="#151580" stroke-width="1.3"/>
<line x1="295.66" y1="236.50" x2="299.86" y2="236.50" stroke="#151580" stroke-width="1.3"/>
<line x1="295.66" y1="242.60" x2="299.86" y2="242.60" stroke="#151580" stroke-width="1.3"/>
<circle cx="203.45" cy="293.40" r="2.3" fill="#151580"/>
<circle cx="219.71" cy="251.40" r="2.3" fill="#151580"/>
<circle cx="239.22" cy="238.20" r="2.3" fill="#151580"/>
<circle cx="258.74" cy="239.80" r="2.3" fill="#151580"/>
<circle cx="297.76" cy="239.40" r="2.3" fill="#151580"/>
<circle cx="336.78" cy="241.20" r="2.3" fill="#151580"/>
<line x1="212.80" y1="205.30" x2="222.80" y2="205.30" stroke="#111" stroke-width="1.3"/>
<polygon points="217.80,202.80 220.30,207.30 215.30,207.30" fill="#111"/>
<text x="227.90" y="208.09" font-size="7.75" text-anchor="start" font-weight="normal" font-family='"Liberation Sans", Arial, sans-serif' fill="#151515" stroke="#151515" stroke-width="0.15">hIgG</text>
<line x1="212.80" y1="215.20" x2="222.80" y2="215.20" stroke="#d01a26" stroke-width="1.3"/>
<polygon points="217.80,212.50 220.50,215.20 217.80,217.90 215.10,215.20" fill="#d01a26"/>
<text x="227.90" y="217.99" font-size="7.75" text-anchor="start" font-weight="normal" font-family='"Liberation Sans", Arial, sans-serif' fill="#151515" stroke="#151515" stroke-width="0.15">ABT-806</text>
<line x1="212.80" y1="225.30" x2="222.80" y2="225.30" stroke="#151580" stroke-width="1.3"/>
<circle cx="217.80" cy="225.30" r="2.3" fill="#151580"/>
<text x="227.90" y="228.09" font-size="7.75" text-anchor="start" font-weight="normal" font-family='"Liberation Sans", Arial, sans-serif' fill="#151515" stroke="#151515" stroke-width="0.15">AM1</text>
<line x1="377.60" y1="211.25" x2="377.60" y2="302.60" stroke="#161616" stroke-width="1.4"/>
<line x1="375.30" y1="302.00" x2="377.60" y2="302.00" stroke="#161616" stroke-width="1.0"/>
<text x="374.80" y="304.48" font-size="6.9" text-anchor="end" font-weight="bold" font-family='"Liberation Sans", Arial, sans-serif' fill="#111" stroke="#111" stroke-width="0.3" >0</text>
<line x1="375.30" y1="283.85" x2="377.60" y2="283.85" stroke="#161616" stroke-width="1.0"/>
<text x="374.80" y="286.33" font-size="6.9" text-anchor="end" font-weight="bold" font-family='"Liberation Sans", Arial, sans-serif' fill="#111" stroke="#111" stroke-width="0.3" >5</text>
<line x1="375.30" y1="265.70" x2="377.60" y2="265.70" stroke="#161616" stroke-width="1.0"/>
<text x="374.80" y="268.18" font-size="6.9" text-anchor="end" font-weight="bold" font-family='"Liberation Sans", Arial, sans-serif' fill="#111" stroke="#111" stroke-width="0.3" >10</text>
<line x1="375.30" y1="247.55" x2="377.60" y2="247.55" stroke="#161616" stroke-width="1.0"/>
<text x="374.80" y="250.03" font-size="6.9" text-anchor="end" font-weight="bold" font-family='"Liberation Sans", Arial, sans-serif' fill="#111" stroke="#111" stroke-width="0.3" >15</text>
<line x1="375.30" y1="229.40" x2="377.60" y2="229.40" stroke="#161616" stroke-width="1.0"/>
<text x="374.80" y="231.88" font-size="6.9" text-anchor="end" font-weight="bold" font-family='"Liberation Sans", Arial, sans-serif' fill="#111" stroke="#111" stroke-width="0.3" >20</text>
<line x1="375.30" y1="211.25" x2="377.60" y2="211.25" stroke="#161616" stroke-width="1.0"/>
<text x="374.80" y="213.73" font-size="6.9" text-anchor="end" font-weight="bold" font-family='"Liberation Sans", Arial, sans-serif' fill="#111" stroke="#111" stroke-width="0.3" >25</text>
<line x1="377.00" y1="302.00" x2="513.90" y2="302.00" stroke="#161616" stroke-width="1.4"/>
<line x1="377.60" y1="302.00" x2="377.60" y2="304.20" stroke="#161616" stroke-width="1.0"/>
<text x="377.60" y="312.48" font-size="6.9" text-anchor="middle" font-weight="bold" font-family='"Liberation Sans", Arial, sans-serif' fill="#111" stroke="#111" stroke-width="0.3" >0</text>
<line x1="397.08" y1="302.00" x2="397.08" y2="304.20" stroke="#161616" stroke-width="1.0"/>
<text x="397.08" y="312.48" font-size="6.9" text-anchor="middle" font-weight="bold" font-family='"Liberation Sans", Arial, sans-serif' fill="#111" stroke="#111" stroke-width="0.3" >24</text>
<line x1="416.55" y1="302.00" x2="416.55" y2="304.20" stroke="#161616" stroke-width="1.0"/>
<text x="416.55" y="312.48" font-size="6.9" text-anchor="middle" font-weight="bold" font-family='"Liberation Sans", Arial, sans-serif' fill="#111" stroke="#111" stroke-width="0.3" >48</text>
<line x1="436.03" y1="302.00" x2="436.03" y2="304.20" stroke="#161616" stroke-width="1.0"/>
<text x="436.03" y="312.48" font-size="6.9" text-anchor="middle" font-weight="bold" font-family='"Liberation Sans", Arial, sans-serif' fill="#111" stroke="#111" stroke-width="0.3" >72</text>
<line x1="455.50" y1="302.00" x2="455.50" y2="304.20" stroke="#161616" stroke-width="1.0"/>
<text x="455.50" y="312.48" font-size="6.9" text-anchor="middle" font-weight="bold" font-family='"Liberation Sans", Arial, sans-serif' fill="#111" stroke="#111" stroke-width="0.3" >96</text>
<line x1="474.98" y1="302.00" x2="474.98" y2="304.20" stroke="#161616" stroke-width="1.0"/>
<text x="474.98" y="312.48" font-size="6.9" text-anchor="middle" font-weight="bold" font-family='"Liberation Sans", Arial, sans-serif' fill="#111" stroke="#111" stroke-width="0.3" >120</text>
<line x1="494.46" y1="302.00" x2="494.46" y2="304.20" stroke="#161616" stroke-width="1.0"/>
<text x="494.46" y="312.48" font-size="6.9" text-anchor="middle" font-weight="bold" font-family='"Liberation Sans", Arial, sans-serif' fill="#111" stroke="#111" stroke-width="0.3" >144</text>
<line x1="513.93" y1="302.00" x2="513.93" y2="304.20" stroke="#161616" stroke-width="1.0"/>
<text x="513.93" y="312.48" font-size="6.9" text-anchor="middle" font-weight="bold" font-family='"Liberation Sans", Arial, sans-serif' fill="#111" stroke="#111" stroke-width="0.3" >168</text>
<text x="427.00" y="321.74" font-size="7.6" text-anchor="start" font-weight="bold" font-family='"Liberation Sans", Arial, sans-serif' fill="#111" textLength="37.60000000000002" lengthAdjust="spacingAndGlyphs" stroke="#111" stroke-width="0.3" >Time (hours)</text>
<text x="359.30" y="256.75" font-size="7.9" font-weight="bold" font-family='"Liberation Sans", Arial, sans-serif' fill="#111" stroke="#111" stroke-width="0.3" text-anchor="middle" transform="rotate(-90 359.30 256.75)" dy="2.8" textLength="42.5" lengthAdjust="spacingAndGlyphs">% ID/cc avg</text>
<polyline points="380.85,282.00 387.34,276.00 397.08,268.90 416.55,274.50 436.03,276.00 474.98,277.70 513.93,277.30" fill="none" stroke="#111" stroke-width="1.75" stroke-linejoin="round"/>
<line x1="380.85" y1="278.80" x2="380.85" y2="293.30" stroke="#111" stroke-width="1.3"/>
<line x1="378.75" y1="278.80" x2="382.95" y2="278.80" stroke="#111" stroke-width="1.3"/>
<line x1="378.75" y1="293.30" x2="382.95" y2="293.30" stroke="#111" stroke-width="1.3"/>
<line x1="387.34" y1="272.00" x2="387.34" y2="280.20" stroke="#111" stroke-width="1.3"/>
<line x1="385.24" y1="272.00" x2="389.44" y2="272.00" stroke="#111" stroke-width="1.3"/>
<line x1="385.24" y1="280.20" x2="389.44" y2="280.20" stroke="#111" stroke-width="1.3"/>
<line x1="397.08" y1="265.70" x2="397.08" y2="272.40" stroke="#111" stroke-width="1.3"/>
<line x1="394.98" y1="265.70" x2="399.18" y2="265.70" stroke="#111" stroke-width="1.3"/>
<line x1="394.98" y1="272.40" x2="399.18" y2="272.40" stroke="#111" stroke-width="1.3"/>
<line x1="416.55" y1="272.60" x2="416.55" y2="277.90" stroke="#111" stroke-width="1.3"/>
<line x1="414.45" y1="272.60" x2="418.65" y2="272.60" stroke="#111" stroke-width="1.3"/>
<line x1="414.45" y1="277.90" x2="418.65" y2="277.90" stroke="#111" stroke-width="1.3"/>
<line x1="436.03" y1="273.00" x2="436.03" y2="278.50" stroke="#111" stroke-width="1.3"/>
<line x1="433.93" y1="273.00" x2="438.13" y2="273.00" stroke="#111" stroke-width="1.3"/>
<line x1="433.93" y1="278.50" x2="438.13" y2="278.50" stroke="#111" stroke-width="1.3"/>
<line x1="474.98" y1="275.00" x2="474.98" y2="281.00" stroke="#111" stroke-width="1.3"/>
<line x1="472.88" y1="275.00" x2="477.08" y2="275.00" stroke="#111" stroke-width="1.3"/>
<line x1="472.88" y1="281.00" x2="477.08" y2="281.00" stroke="#111" stroke-width="1.3"/>
<polygon points="380.85,279.50 383.35,284.00 378.35,284.00" fill="#111"/>
<polygon points="387.34,273.50 389.84,278.00 384.84,278.00" fill="#111"/>
<polygon points="397.08,266.40 399.58,270.90 394.58,270.90" fill="#111"/>
<polygon points="416.55,272.00 419.05,276.50 414.05,276.50" fill="#111"/>
<polygon points="436.03,273.50 438.53,278.00 433.53,278.00" fill="#111"/>
<polygon points="474.98,275.20 477.48,279.70 472.48,279.70" fill="#111"/>
<polygon points="513.93,274.80 516.43,279.30 511.43,279.30" fill="#111"/>
<polyline points="380.85,279.60 387.34,272.00 397.08,267.60 416.55,270.80 436.03,272.30 474.98,274.20 513.93,276.80" fill="none" stroke="#d01a26" stroke-width="1.75" stroke-linejoin="round"/>
<line x1="416.55" y1="265.10" x2="416.55" y2="274.50" stroke="#d01a26" stroke-width="1.3"/>
<line x1="414.45" y1="265.10" x2="418.65" y2="265.10" stroke="#d01a26" stroke-width="1.3"/>
<line x1="414.45" y1="274.50" x2="418.65" y2="274.50" stroke="#d01a26" stroke-width="1.3"/>
<line x1="436.03" y1="267.00" x2="436.03" y2="278.30" stroke="#d01a26" stroke-width="1.3"/>
<line x1="433.93" y1="267.00" x2="438.13" y2="267.00" stroke="#d01a26" stroke-width="1.3"/>
<line x1="433.93" y1="278.30" x2="438.13" y2="278.30" stroke="#d01a26" stroke-width="1.3"/>
<line x1="474.98" y1="270.40" x2="474.98" y2="278.50" stroke="#d01a26" stroke-width="1.3"/>
<line x1="472.88" y1="270.40" x2="477.08" y2="270.40" stroke="#d01a26" stroke-width="1.3"/>
<line x1="472.88" y1="278.50" x2="477.08" y2="278.50" stroke="#d01a26" stroke-width="1.3"/>
<line x1="513.93" y1="273.40" x2="513.93" y2="281.10" stroke="#d01a26" stroke-width="1.3"/>
<line x1="511.83" y1="273.40" x2="516.03" y2="273.40" stroke="#d01a26" stroke-width="1.3"/>
<line x1="511.83" y1="281.10" x2="516.03" y2="281.10" stroke="#d01a26" stroke-width="1.3"/>
<polygon points="380.85,276.90 383.55,279.60 380.85,282.30 378.15,279.60" fill="#d01a26"/>
<polygon points="387.34,269.30 390.04,272.00 387.34,274.70 384.64,272.00" fill="#d01a26"/>
<polygon points="397.08,264.90 399.78,267.60 397.08,270.30 394.38,267.60" fill="#d01a26"/>
<polygon points="416.55,268.10 419.25,270.80 416.55,273.50 413.85,270.80" fill="#d01a26"/>
<polygon points="436.03,269.60 438.73,272.30 436.03,275.00 433.33,272.30" fill="#d01a26"/>
<polygon points="474.98,271.50 477.68,274.20 474.98,276.90 472.28,274.20" fill="#d01a26"/>
<polygon points="513.93,274.10 516.63,276.80 513.93,279.50 511.23,276.80" fill="#d01a26"/>
<polyline points="380.85,272.40 387.34,265.10 397.08,262.60 416.55,259.80 436.03,262.50 474.98,264.40 513.93,268.70" fill="none" stroke="#151580" stroke-width="1.75" stroke-linejoin="round"/>
<line x1="380.85" y1="269.80" x2="380.85" y2="275.00" stroke="#151580" stroke-width="1.3"/>
<line x1="378.75" y1="269.80" x2="382.95" y2="269.80" stroke="#151580" stroke-width="1.3"/>
<line x1="378.75" y1="275.00" x2="382.95" y2="275.00" stroke="#151580" stroke-width="1.3"/>
<line x1="387.34" y1="262.60" x2="387.34" y2="267.60" stroke="#151580" stroke-width="1.3"/>
<line x1="385.24" y1="262.60" x2="389.44" y2="262.60" stroke="#151580" stroke-width="1.3"/>
<line x1="385.24" y1="267.60" x2="389.44" y2="267.60" stroke="#151580" stroke-width="1.3"/>
<line x1="436.03" y1="260.40" x2="436.03" y2="264.70" stroke="#151580" stroke-width="1.3"/>
<line x1="433.93" y1="260.40" x2="438.13" y2="260.40" stroke="#151580" stroke-width="1.3"/>
<line x1="433.93" y1="264.70" x2="438.13" y2="264.70" stroke="#151580" stroke-width="1.3"/>
<circle cx="380.85" cy="272.40" r="2.3" fill="#151580"/>
<circle cx="387.34" cy="265.10" r="2.3" fill="#151580"/>
<circle cx="397.08" cy="262.60" r="2.3" fill="#151580"/>
<circle cx="416.55" cy="259.80" r="2.3" fill="#151580"/>
<circle cx="436.03" cy="262.50" r="2.3" fill="#151580"/>
<circle cx="474.98" cy="264.40" r="2.3" fill="#151580"/>
<circle cx="513.93" cy="268.70" r="2.3" fill="#151580"/>
<line x1="393.40" y1="214.70" x2="403.50" y2="214.70" stroke="#111" stroke-width="1.3"/>
<polygon points="398.45,212.20 400.95,216.70 395.95,216.70" fill="#111"/>
<text x="408.60" y="217.49" font-size="7.75" text-anchor="start" font-weight="normal" font-family='"Liberation Sans", Arial, sans-serif' fill="#151515" stroke="#151515" stroke-width="0.15">hIgG</text>
<line x1="393.40" y1="224.80" x2="403.50" y2="224.80" stroke="#d01a26" stroke-width="1.3"/>
<polygon points="398.45,222.10 401.15,224.80 398.45,227.50 395.75,224.80" fill="#d01a26"/>
<text x="408.60" y="227.59" font-size="7.75" text-anchor="start" font-weight="normal" font-family='"Liberation Sans", Arial, sans-serif' fill="#151515" stroke="#151515" stroke-width="0.15">ABT-806</text>
<line x1="393.40" y1="235.20" x2="403.50" y2="235.20" stroke="#151580" stroke-width="1.3"/>
<circle cx="398.45" cy="235.20" r="2.3" fill="#151580"/>
<text x="408.60" y="237.99" font-size="7.75" text-anchor="start" font-weight="normal" font-family='"Liberation Sans", Arial, sans-serif' fill="#151515" stroke="#151515" stroke-width="0.15">AM1</text>
</svg>
</body></html>
